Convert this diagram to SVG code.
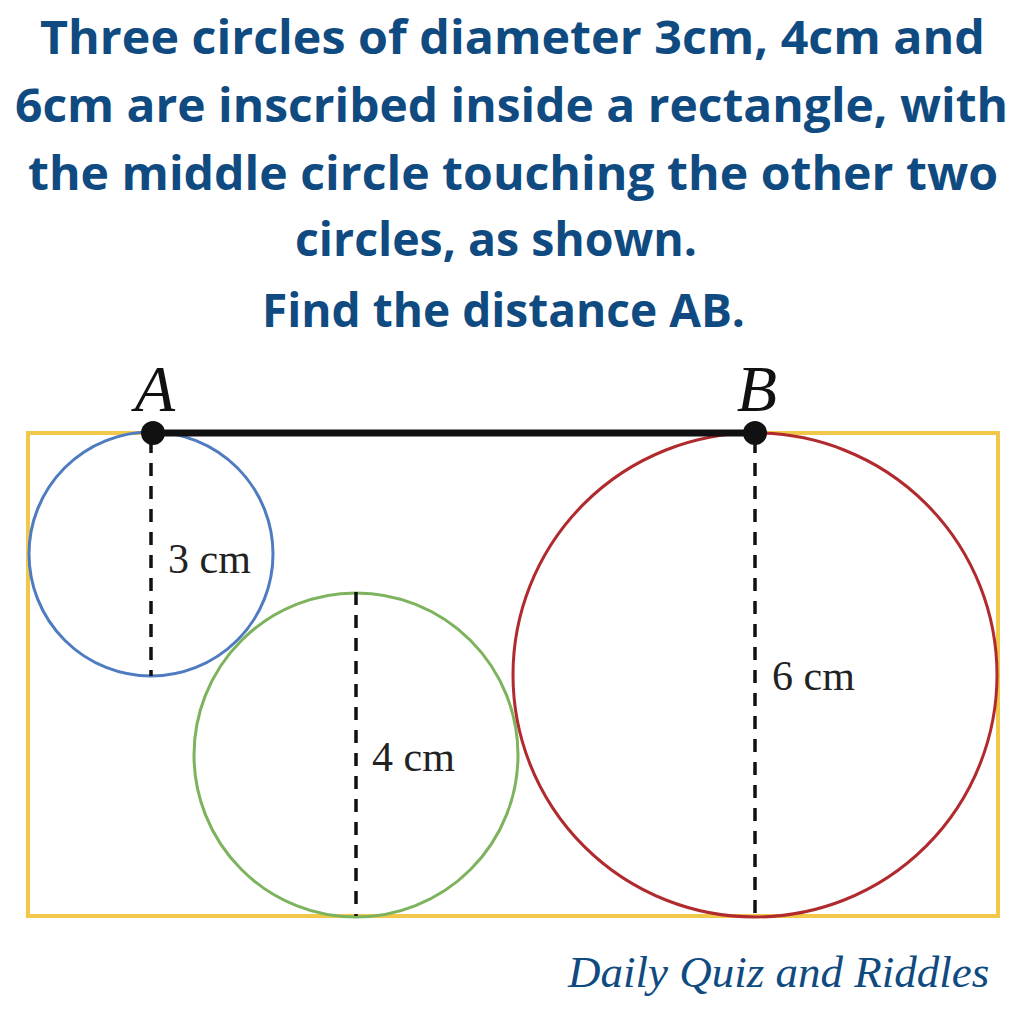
<svg xmlns="http://www.w3.org/2000/svg" width="1024" height="1024" viewBox="0 0 1024 1024">
<style>
.title{font-family:"Open Sans","Noto Sans",sans-serif;font-weight:bold;font-size:46px;fill:#0f4a80}
.lbl{font-family:"Liberation Serif","Times New Roman",serif;font-size:42px;fill:#222}
.pt{font-family:"Liberation Serif","Times New Roman",serif;font-style:italic;font-size:66px;fill:#111}
.dash{stroke:#111;stroke-width:3.5;stroke-dasharray:13 10;fill:none}
.sig{font-family:"Liberation Serif","Times New Roman",serif;font-style:italic;font-size:45px;fill:#0f4a80}
</style>
<rect width="1024" height="1024" fill="#ffffff"/>
<g id="title">
<text class="title" x="40" y="54" textLength="945" lengthAdjust="spacingAndGlyphs">Three circles of diameter 3cm, 4cm and</text>
<text class="title" x="15" y="122" textLength="993" lengthAdjust="spacingAndGlyphs">6cm are inscribed inside a rectangle, with</text>
<text class="title" x="28" y="190" textLength="970" lengthAdjust="spacingAndGlyphs">the middle circle touching the other two</text>
<text class="title" x="295" y="256" textLength="402" lengthAdjust="spacingAndGlyphs">circles, as shown.</text>
<text class="title" x="262" y="327" textLength="483" lengthAdjust="spacingAndGlyphs">Find the distance AB.</text>
</g>
<g id="rectangle">
<rect x="28" y="433" width="970" height="483" fill="none" stroke="#f2c84b" stroke-width="4"/>
</g>
<g id="circle-small">
<circle cx="151" cy="554" r="122" fill="none" stroke="#4f7cc0" stroke-width="3"/>
<line class="dash" x1="151" y1="440" x2="151" y2="676"/>
<text class="lbl" x="168" y="573">3 cm</text>
</g>
<g id="circle-middle">
<circle cx="356" cy="755" r="162" fill="none" stroke="#7db35c" stroke-width="3"/>
<line class="dash" x1="356" y1="592" x2="356" y2="916"/>
<text class="lbl" x="372" y="771">4 cm</text>
</g>
<g id="circle-large">
<circle cx="755" cy="675" r="242" fill="none" stroke="#b02a2e" stroke-width="3"/>
<line class="dash" x1="755" y1="440" x2="755" y2="916"/>
<text class="lbl" x="772" y="690">6 cm</text>
</g>
<g id="connectors">
<line x1="153" y1="433" x2="755" y2="433" stroke="#111" stroke-width="7"/>
</g>
<g id="point-A">
<circle cx="153" cy="433" r="12" fill="#111"/>
<text class="pt" x="155" y="411" text-anchor="middle">A</text>
</g>
<g id="point-B">
<circle cx="755" cy="433" r="12" fill="#111"/>
<text class="pt" x="757" y="411" text-anchor="middle">B</text>
</g>
<g id="signature">
<text class="sig" x="568" y="987">Daily Quiz and Riddles</text>
</g>
</svg>
